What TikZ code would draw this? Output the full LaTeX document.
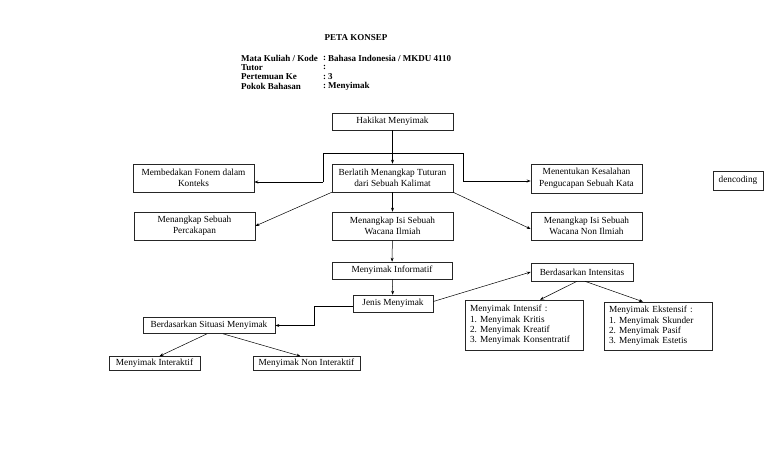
\documentclass[tikz,border=0pt]{standalone}
\usepackage{fontspec}
\setmainfont{Liberation Serif}
\usetikzlibrary{arrows.meta}
\frenchspacing
\begin{document}
\begin{tikzpicture}[x=1pt,y=-1pt,
  box/.style={draw=black!85, line width=0.6pt, inner sep=0pt, align=center, font=\fontsize{9.3}{11.5}\selectfont},
  lbox/.style={draw=black!85, line width=0.6pt, inner xsep=5pt, inner ysep=3pt, align=left, font=\fontsize{9.3}{10.2}\selectfont},
  arr/.style={-{Stealth[length=4pt,width=3pt]}, line width=0.5pt},
  barr/.style={-{Stealth[length=4pt,width=3pt]}, line width=0.9pt},
  hdr/.style={font=\fontsize{9}{10}\selectfont\bfseries, anchor=west, inner sep=0pt},
]
\path[use as bounding box] (0,0) rectangle (768,466);

% header
\node[font=\fontsize{9}{10}\selectfont\bfseries, inner sep=0pt] (title) at (356,38) {PETA KONSEP};
\node[hdr] (h1) at (241,58) {Mata Kuliah / Kode};
\node[hdr] (h2) at (241,67.5) {Tutor};
\node[hdr] (h3) at (241,77) {Pertemuan Ke};
\node[hdr] (h4) at (241,86.5) {Pokok Bahasan};
\node[hdr] (c1) at (323,58) {:};
\node[hdr] (c2) at (323,67.5) {:};
\node[hdr] (c3) at (323,77) {:};
\node[hdr] (c4) at (323,86.5) {:};
\node[hdr] (v1) at (328,58) {Bahasa Indonesia / MKDU 4110};
\node[hdr] (v3) at (328,77) {3};
\node[hdr] (v4) at (328,86.5) {Menyimak};

% boxes
\node[box, minimum width=121, minimum height=17] (hak) at (392.5,121.5) {Hakikat Menyimak};
\node[box, minimum width=121, minimum height=28] (berl) at (392.5,178) {Berlatih Menangkap Tuturan\\dari Sebuah Kalimat};
\node[box, minimum width=121, minimum height=28] (memb) at (193.5,178) {Membedakan Fonem dalam\\Konteks};
\node[box, minimum width=111, minimum height=29] (menen) at (586.5,178.5) {Menentukan Kesalahan\\Pengucapan Sebuah Kata};
\node[box, minimum width=50, minimum height=19] (denc) at (738,180.5) {dencoding};
\node[box, minimum width=121, minimum height=28] (perc) at (194.5,226) {Menangkap Sebuah\\Percakapan};
\node[box, minimum width=121, minimum height=28] (ilm) at (392.5,226) {Menangkap Isi Sebuah\\Wacana Ilmiah};
\node[box, minimum width=111, minimum height=28] (nonilm) at (586.5,226) {Menangkap Isi Sebuah\\Wacana Non Ilmiah};
\node[box, minimum width=120, minimum height=17] (inf) at (392,270.5) {Menyimak Informatif};
\node[box, minimum width=80, minimum height=17] (jenis) at (393,303.5) {Jenis Menyimak};
\node[box, minimum width=102, minimum height=18] (intens) at (582,272) {Berdasarkan Intensitas};
\node[box, minimum width=132, minimum height=16] (situasi) at (209,325.5) {Berdasarkan Situasi Menyimak};
\node[lbox, text width=108, minimum height=50] (intensif) at (524,325) {Menyimak Intensif :\\1. Menyimak Kritis\\2. Menyimak Kreatif\\3. Menyimak Konsentratif};
\node[lbox, text width=98, minimum height=48] (ekst) at (658,326) {Menyimak Ekstensif :\\1. Menyimak Skunder\\2. Menyimak Pasif\\3. Menyimak Estetis};
\node[box, minimum width=91, minimum height=14] (inter) at (154.5,363.5) {Menyimak Interaktif};
\node[box, minimum width=107, minimum height=14] (noninter) at (306.5,363.5) {Menyimak Non Interaktif};

% bracket coordinates
\coordinate (bl) at (323,153);
\coordinate (br) at (463,153);
\coordinate (blc) at (323,182);
\coordinate (brc) at (463,181);

% connectors
\draw[arr] (hak) -- (berl);
\draw[line width=0.9pt] (blc) -- (bl) -- (br) -- (brc);
\draw[barr] (blc) -- (memb.east |- blc);
\draw[barr] (brc) -- (menen.west |- brc);
\draw[arr] (berl) -- (ilm);
\draw[arr] (berl.south west) -- (perc.east);
\draw[arr] (berl.south east) -- ([yshift=-3pt]nonilm.west);
\draw[arr] (ilm) -- (inf);
\draw[arr] (inf) -- (jenis);
\draw[arr] ([yshift=2pt]jenis.east) -- (intens.west);
\draw[barr] ([yshift=-3pt]jenis.west) -- ++(-38,0) |- (situasi.east);
\draw[arr] ([xshift=-5pt]intens.south) -- ([xshift=16pt]intensif.north);
\draw[arr] ([xshift=3pt]intens.south) -- ([xshift=-15pt]ekst.north);
\draw[arr] ([xshift=-2pt]situasi.south) -- ([xshift=5pt]inter.north);
\draw[arr] ([xshift=14pt]situasi.south) -- ([xshift=-6pt]noninter.north);
\end{tikzpicture}
\end{document}
